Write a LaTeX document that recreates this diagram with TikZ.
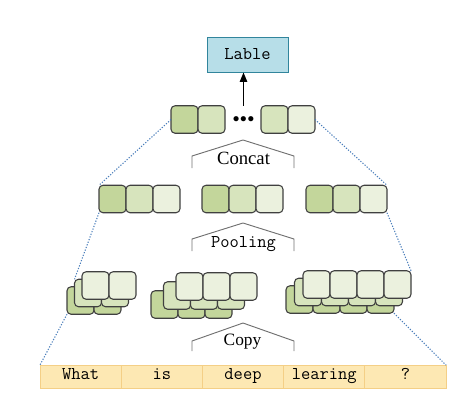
\documentclass[tikz,border=0pt]{standalone}
\usepackage{fontspec}
\setmainfont{Liberation Serif}
\usetikzlibrary{positioning, arrows.meta}
\definecolor{lableBlue}{HTML}{B7DEE8}
\definecolor{lableEdge}{HTML}{31859C}
\definecolor{cellDark}{HTML}{C3D69B}
\definecolor{cellMid}{HTML}{D7E4BD}
\definecolor{cellLight}{HTML}{EBF1DE}
\definecolor{cellEdge}{HTML}{404040}
\definecolor{wordFill}{HTML}{FDE8B3}
\definecolor{wordEdge}{HTML}{F4CF86}
\definecolor{guideBlue}{HTML}{4A7EBB}
\definecolor{roofGrey}{HTML}{707070}

\tikzset{
  cell/.style={draw=cellEdge, line width=0.8pt, rounded corners=3pt, minimum width=20.25pt, minimum height=20.6pt, inner sep=0pt, outer sep=0pt},
  word/.style={draw=wordEdge, fill=wordFill, line width=0.6pt, minimum width=60.9pt, minimum height=17.25pt, inner sep=0pt, outer sep=0pt, font=\ttfamily\fontsize{13.5}{15}\selectfont, text height=0.62em, text depth=0.2em},
  guide/.style={guideBlue, line width=0.8pt, dash pattern=on 0.9pt off 1.2pt},
  roof/.style={roofGrey, line width=0.7pt},
}

\begin{document}
\begin{tikzpicture}[x=0.75pt, y=-0.75pt]
    \useasboundingbox (0,0) rectangle (474,411);
    % output label
    \node[draw=lableEdge, fill=lableBlue, line width=0.7pt, minimum width=60.75pt, minimum height=26.25pt, font=\ttfamily\fontsize{13.5}{15}\selectfont] (lable) at (247.5,54.5) {Lable};
    % concatenated vectors
    \node[cell, fill=cellDark] (t1) at (184.5,119.5) {};
    \node[cell, fill=cellMid, right=0pt of t1] (t2) {};
    \node[minimum height=20.6pt, inner sep=0pt, font=\normalsize] (dots) at (243.5,119.5) {$\bullet\mkern-3mu\bullet\mkern-3mu\bullet$};
    \node[cell, fill=cellMid] (t3) at (274.5,119.5) {};
    \node[cell, fill=cellLight, right=0pt of t3] (t4) {};
    \draw[-{Triangle[length=7pt, width=5.5pt]}, line width=1pt] (dots.north) -- (dots.north |- lable.south);
    \draw[roof] (192,168) -- (192,156) -- (243,140) -- (294,156) -- (294,168);
    \node[anchor=base, inner sep=0pt, font=\fontsize{14}{16}\selectfont] (concat) at (243.5,164) {Concat};
    % pooled vectors
    \node[cell, fill=cellDark] (m11) at (112.5,199) {};
    \node[cell, fill=cellMid, right=0pt of m11] (m12) {};
    \node[cell, fill=cellLight, right=0pt of m12] (m13) {};
    \node[cell, fill=cellDark] (m21) at (215.5,199) {};
    \node[cell, fill=cellMid, right=0pt of m21] (m22) {};
    \node[cell, fill=cellLight, right=0pt of m22] (m23) {};
    \node[cell, fill=cellDark] (m31) at (319.5,199) {};
    \node[cell, fill=cellMid, right=0pt of m31] (m32) {};
    \node[cell, fill=cellLight, right=0pt of m32] (m33) {};
    \draw[roof] (192,251) -- (192,239) -- (243,223) -- (294,239) -- (294,251);
    \node[anchor=base, inner sep=0pt, font=\ttfamily\fontsize{13.5}{15}\selectfont] (pooling) at (243.5,247) {Pooling};
    % copied stacks
    \foreach \grp/\num/\xo/\yo/\dx/\dy in {a/2/80.5/300.5/7.5/-7.5, b/3/164.5/304.5/12.5/-9, c/4/299.5/299.5/8.5/-7.5} {
      \foreach \lay/\shade in {1/Dark, 2/Mid, 3/Light} {
        \foreach \k in {1,...,\num} {
          \node[cell, fill=cell\shade] (s\grp\lay\k) at ({\xo+(\lay-1)*\dx+(\k-1)*27}, {\yo+(\lay-1)*\dy}) {};
        }
      }
    }
    \draw[roof] (192,351) -- (192,341) -- (243,323) -- (294,341) -- (294,351);
    \node[anchor=base, inner sep=0pt, font=\fontsize{13}{15}\selectfont] (copy) at (242.5,345) {Copy};
    % input words
    \node[word] (w1) at (80.6,376.5) {What};
    \node[word, right=0pt of w1] (w2) {is};
    \node[word, right=0pt of w2] (w3) {deep};
    \node[word, right=0pt of w3] (w4) {learing};
    \node[word, right=0pt of w4] (w5) {?};
    % guide lines
    \draw[guide] (t1.west) -- (m11.north west);
    \draw[guide] (m11.south west) -- (sa21.north west);
    \draw[guide] (sa11.south west) -- (w1.north west);
    \draw[guide] (t4.east) -- (m33.north east);
    \draw[guide] (m33.south east) -- (sc34.north east);
    \draw[guide] (sc14.south east) -- (w5.north east);
\end{tikzpicture}
\end{document}
